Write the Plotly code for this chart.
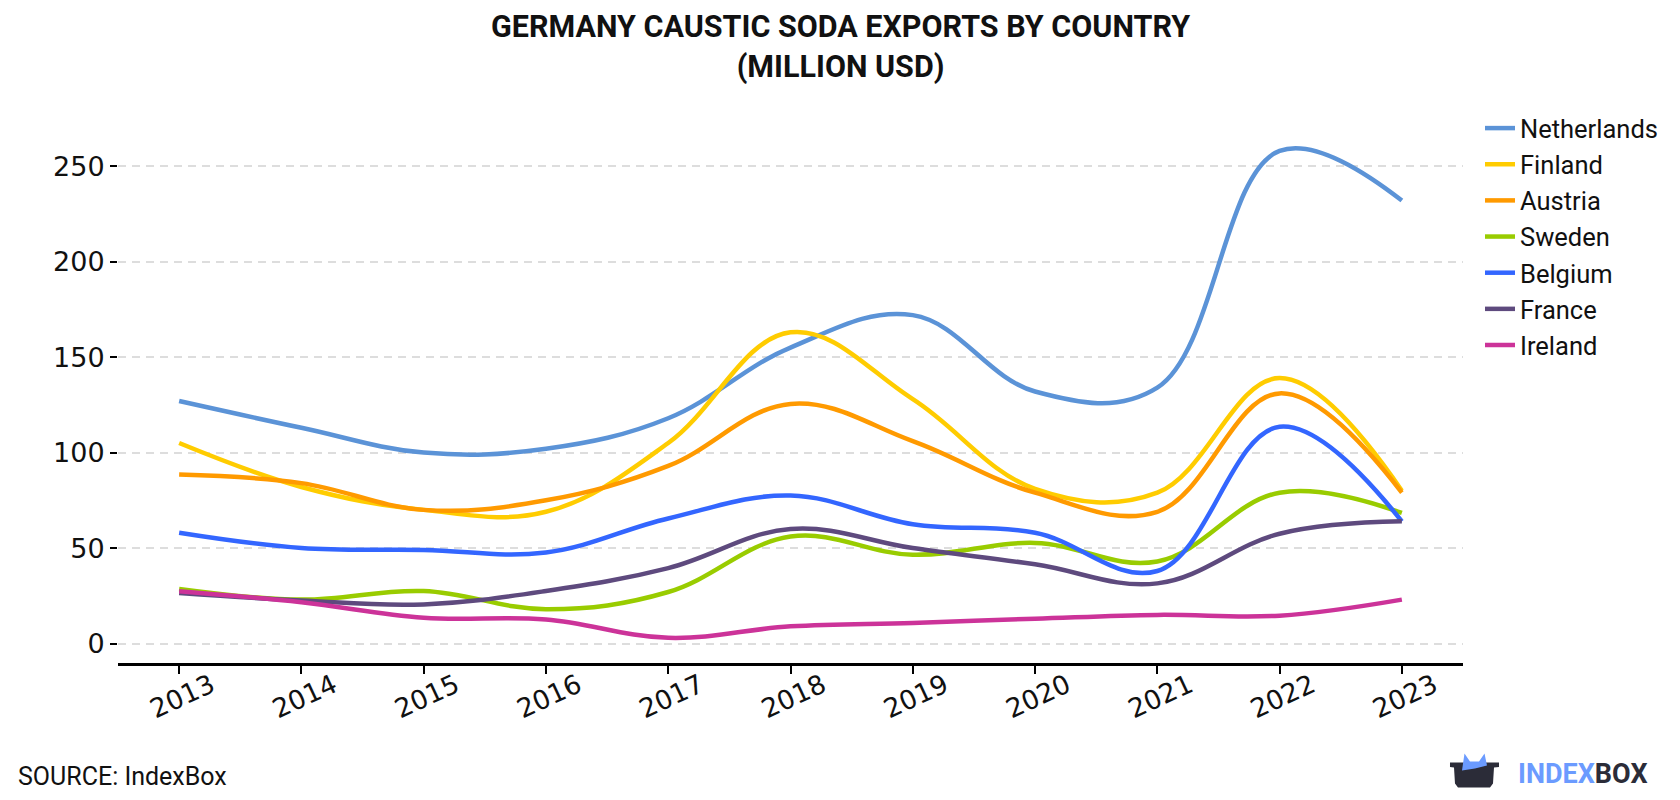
import plotly.graph_objects as go

years = [2013, 2014, 2015, 2016, 2017, 2018, 2019, 2020, 2021, 2022, 2023]
netherlands = [127, 113, 100, 102, 118, 155, 172, 132, 134, 258, 232]
finland = [105, 82, 70, 69, 105, 163, 128, 81, 79, 139, 80]
austria = [88.5, 84, 70, 75, 93, 125.5, 106, 79, 69, 131, 79]
sweden = [28.6, 23, 27.5, 18, 27, 56, 46.5, 52.7, 43, 79, 68.4]
belgium = [58, 50, 49, 47.7, 65.5, 77.5, 62.5, 58, 38, 113.5, 64]
france = [26.5, 22.5, 20.5, 27.5, 39.5, 60, 50, 41.5, 31.5, 57.5, 64]
ireland = [27.4, 21.6, 13.5, 12.6, 3, 9, 10.8, 13, 15, 14.6, 23]

series_names = ["Netherlands", "Finland", "Austria", "Sweden", "Belgium", "France", "Ireland"]
series_values = [netherlands, finland, austria, sweden, belgium, france, ireland]
colors = ["#5B93D7", "#FFCC00", "#FF9A00", "#99CC00", "#3366FF", "#5E4A7E", "#CC3399"]
y_ticks = [0, 50, 100, 150, 200, 250]

W, H = 1680, 800
ML, MR, MT, MB = 118, 217, 128, 136.5
PW, PH = W - ML - MR, H - MT - MB


def px2paper(px, py):
    return (px - ML) / PW, (H - MB - py) / PH


fig = go.Figure()
for name, vals, col in zip(series_names, series_values, colors):
    fig.add_trace(go.Scatter(
        x=years, y=vals, name=name, mode="lines",
        line=dict(color=col, width=4.5, shape="spline", smoothing=1.1),
    ))

# Logo shapes (decoration)
def path_from(points):
    s = ""
    for i, (px, py) in enumerate(points):
        xp, yp = px2paper(px, py)
        s += ("M" if i == 0 else "L") + f"{xp:.5f},{yp:.5f}"
    return s + "Z"

body = [(1450, 763), (1499, 763), (1499, 767.5), (1494, 768), (1493, 784), (1490, 788),
        (1458, 788), (1455, 784), (1454, 768), (1450, 767.5)]
ears = [(1462, 771), (1464.5, 754), (1470, 762), (1479, 762), (1484.5, 754), (1487, 766), (1475, 769)]

shapes = [
    dict(type="path", xref="paper", yref="paper", path=path_from(body),
         fillcolor="#2B2C38", line=dict(width=0), layer="above"),
    dict(type="path", xref="paper", yref="paper", path=path_from(ears),
         fillcolor="#6B9BFF", line=dict(width=0), layer="above"),
]

sx, sy = px2paper(16, 777)
lx, ly = px2paper(1516, 775)
tx, ty = px2paper(840, 7)

fig.update_layout(
    width=W, height=H,
    margin=dict(l=ML, r=MR, t=MT, b=MB, pad=0),
    paper_bgcolor="white", plot_bgcolor="white",
    legend=dict(
        x=px2paper(1480, 0)[0], xanchor="left",
        y=px2paper(0, 105)[1], yanchor="top",
        font=dict(family="Roboto", size=25.5, color="#111111"),
        bgcolor="rgba(0,0,0,0)", borderwidth=0,
    ),
    xaxis=dict(
        range=[2012.5, 2023.5], tickvals=years, ticktext=[str(y) for y in years],
        tickangle=-25, ticklabelshift=32, ticklabelstandoff=-14,
        tickfont=dict(family="DejaVu Sans", size=26.5, color="#111111"),
        showline=True, linecolor="black", linewidth=2.5,
        ticks="outside", ticklen=8, tickwidth=2, tickcolor="black",
        showgrid=False, zeroline=False, fixedrange=True,
    ),
    yaxis=dict(
        range=[-10.2, 270], tickvals=y_ticks, ticktext=[str(v) for v in y_ticks],
        tickfont=dict(family="DejaVu Sans", size=27, color="#111111"),
        showline=False, ticks="outside", ticklen=7, tickwidth=2, tickcolor="black",
        showgrid=True, gridcolor="#DDDDDD", gridwidth=2, griddash="8px,6px",
        zeroline=False, fixedrange=True,
    ),
    shapes=shapes,
    annotations=[
        dict(text="<b>GERMANY CAUSTIC SODA EXPORTS BY COUNTRY<br>(MILLION USD)</b>",
             xref="paper", yref="paper", x=tx, y=ty, xanchor="center", yanchor="top",
             showarrow=False, align="center",
             font=dict(family="Roboto", size=30.5, color="#111111")),
        dict(text="SOURCE: IndexBox", xref="paper", yref="paper", x=sx, y=sy,
             xanchor="left", yanchor="middle", showarrow=False,
             font=dict(family="Roboto", size=25, color="#111111")),
        dict(text="<b><span style='color:#6B9BFF'>INDEX</span><span style='color:#2B2C38'>BOX</span></b>",
             xref="paper", yref="paper", x=lx, y=ly, xanchor="left", yanchor="middle",
             showarrow=False, font=dict(family="Roboto", size=27)),
    ],
)

fig.write_html("out.html")
